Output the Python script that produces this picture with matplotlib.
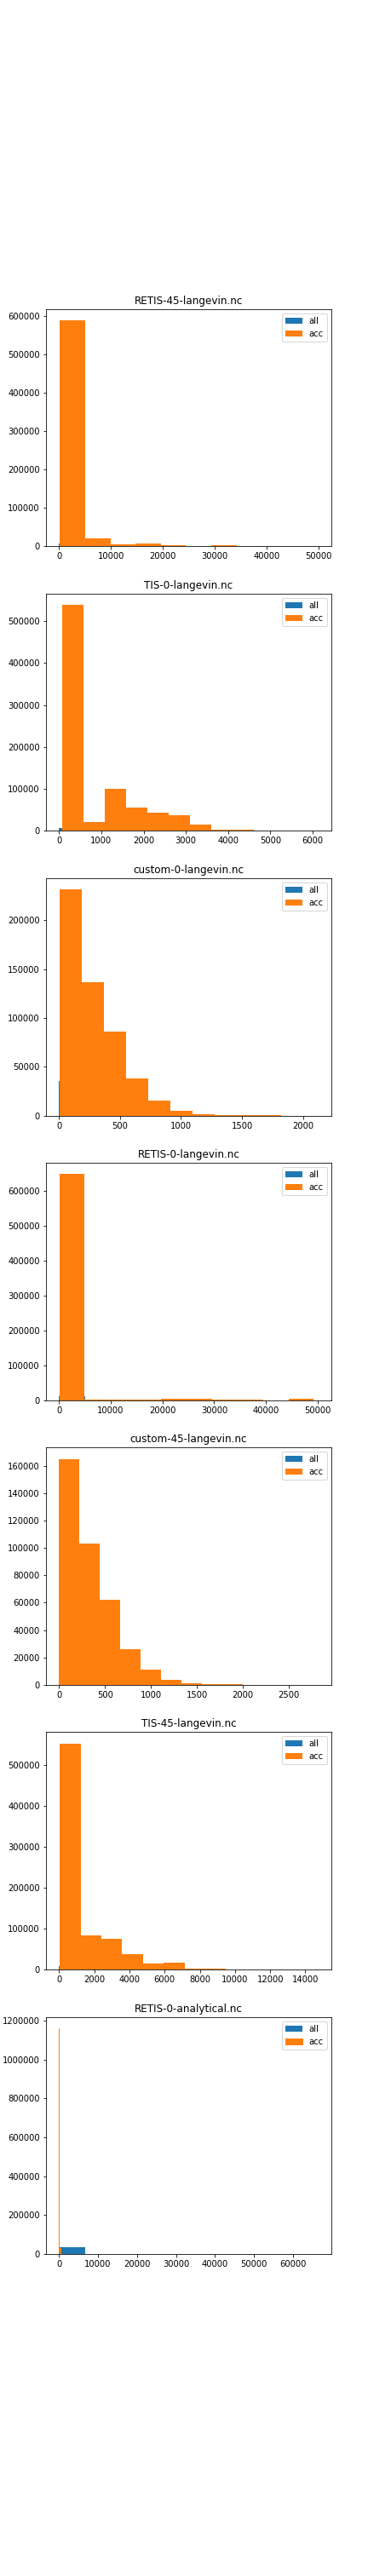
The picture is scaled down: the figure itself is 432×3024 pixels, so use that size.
import numpy as np
import matplotlib
matplotlib.use('Agg')
import matplotlib.pyplot as plt


# titoli dei pannelli (un file .nc per pannello)
titoli = ["RETIS-45-langevin.nc", "TIS-0-langevin.nc", "custom-0-langevin.nc",
          "RETIS-0-langevin.nc", "custom-45-langevin.nc", "TIS-45-langevin.nc",
          "RETIS-0-analytical.nc"]

# intervalli (min, max) dei 10 bin e conteggi
all_range = [(0, 50000), (0, 6130), (0, 2125), (0, 50100), (0, 2820), (0, 14730), (150, 66500)]
acc_range = [(200, 48800), (81, 5121), (5, 1820), (60, 49260), (0, 2222), (48, 11848), (0, 450)]

all_counts = [
    [7000, 900, 300, 400, 150, 0, 150, 20, 10, 30],
    [6800, 900, 800, 600, 500, 400, 200, 50, 20, 10],
    [35650, 15000, 6000, 2000, 600, 150, 40, 20, 5, 2],
    [12200, 50, 50, 50, 100, 100, 50, 50, 0, 100],
    [20000, 9000, 3000, 800, 200, 60, 20, 5, 2, 1],
    [8300, 3000, 2000, 1000, 500, 300, 100, 50, 20, 10],
    [36000, 300, 100, 50, 20, 10, 5, 2, 1, 1],
]
acc_counts = [
    [589000, 20000, 4400, 6700, 2200, 0, 2200, 300, 200, 300],
    [538600, 20300, 99600, 54900, 42700, 36600, 14200, 2000, 2000, 100],
    [231300, 136500, 86100, 38300, 15650, 5200, 1700, 900, 800, 700],
    [648800, 2400, 2400, 2400, 4900, 4900, 2400, 2400, 0, 4900],
    [165100, 103300, 62100, 26250, 11250, 3750, 1250, 625, 200, 50],
    [552000, 83300, 75000, 37500, 14600, 16700, 2100, 2100, 100, 50],
    [1162000, 25000, 28000, 31000, 32000, 31000, 30000, 31000, 31000, 30000],
]


fig, axis = plt.subplots(7, 1, figsize=(6, 42))
fig.subplots_adjust(bottom=0.125, hspace=0.2)

for i in range(7):
    ax = axis[i]
    e_all = np.linspace(all_range[i][0], all_range[i][1], 11)
    e_acc = np.linspace(acc_range[i][0], acc_range[i][1], 11)
    ax.hist(e_all[:-1], bins=e_all, weights=all_counts[i], label='all')
    if i == 6:
        # bin strettissimi: bordo per renderli visibili
        ax.hist(e_acc[:-1], bins=e_acc, weights=acc_counts[i], label='acc',
                edgecolor='C1', linewidth=1.0)
    else:
        ax.hist(e_acc[:-1], bins=e_acc, weights=acc_counts[i], label='acc')
    ax.ticklabel_format(axis='y', style='plain', useOffset=False)
    ax.set_title(titoli[i])
    ax.legend(loc='upper right')

plt.savefig('out.png', dpi=72)
